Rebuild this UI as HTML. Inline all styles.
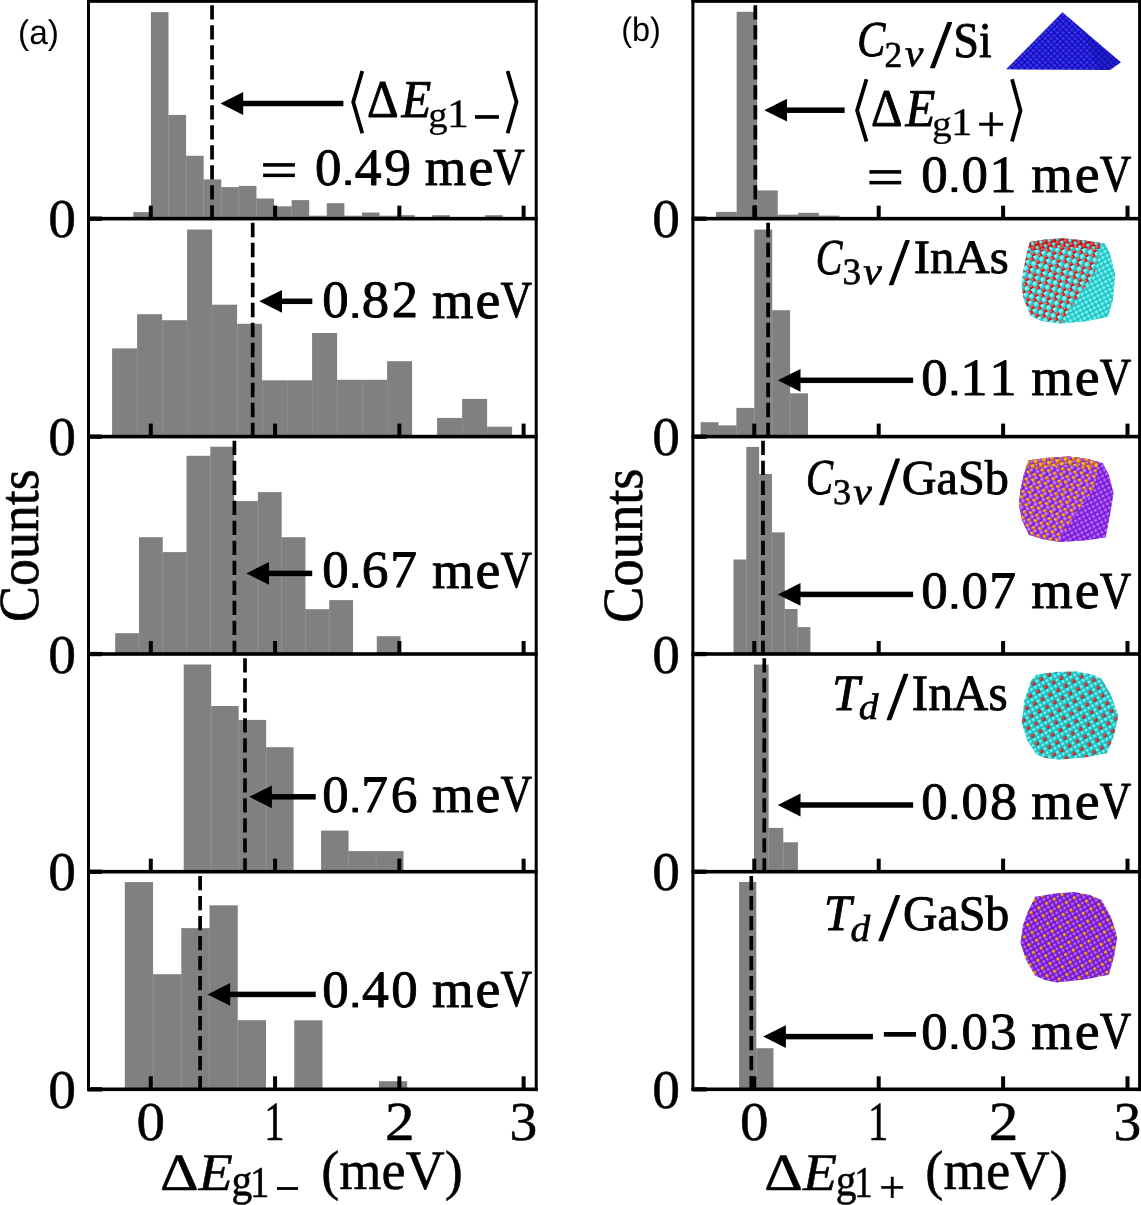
<!DOCTYPE html>
<html><head><meta charset="utf-8"><title>Histograms</title>
<style>html,body{margin:0;padding:0;background:#fff;}svg{display:block;will-change:transform;}text{text-rendering:geometricPrecision;}</style>
</head><body>
<svg width="1141" height="1205" viewBox="0 0 1141 1205">

<defs>
<radialGradient id="gC" cx="0.4" cy="0.35" r="0.65"><stop offset="0" stop-color="#c8ffff"/><stop offset="0.45" stop-color="#46eaea"/><stop offset="1" stop-color="#1aa8a8"/></radialGradient>
<radialGradient id="gR" cx="0.4" cy="0.35" r="0.65"><stop offset="0" stop-color="#ff9090"/><stop offset="0.45" stop-color="#e61e1e"/><stop offset="1" stop-color="#a00808"/></radialGradient>
<radialGradient id="gP" cx="0.4" cy="0.35" r="0.65"><stop offset="0" stop-color="#e6b0ff"/><stop offset="0.45" stop-color="#9c3cf4"/><stop offset="1" stop-color="#6410c4"/></radialGradient>
<radialGradient id="gO" cx="0.4" cy="0.35" r="0.65"><stop offset="0" stop-color="#ffd890"/><stop offset="0.45" stop-color="#f0901c"/><stop offset="1" stop-color="#b05a00"/></radialGradient>
<pattern id="pBlue" width="4.2" height="4.2" patternUnits="userSpaceOnUse" patternTransform="rotate(45)"><rect width="4.2" height="4.2" fill="#1610c0"/><circle cx="2.1" cy="2.1" r="1.5" fill="#3a36ee"/></pattern>
<pattern id="pCyan" width="5.6" height="5.6" patternUnits="userSpaceOnUse" patternTransform="rotate(-28) scale(0.8)"><rect width="5.6" height="5.6" fill="#2cc4c4"/><circle cx="2.8" cy="2.8" r="2.9" fill="url(#gC)"/></pattern>
<pattern id="pRC" width="7.6" height="7.6" patternUnits="userSpaceOnUse" patternTransform="rotate(-30) scale(1.2)"><rect width="7.6" height="7.6" fill="#30b4b0"/><circle cx="5.7" cy="1.9" r="2.4" fill="url(#gR)"/><circle cx="1.9" cy="5.7" r="2.4" fill="url(#gR)"/><circle cx="1.9" cy="1.9" r="2.75" fill="url(#gC)"/><circle cx="5.7" cy="5.7" r="2.75" fill="url(#gC)"/></pattern>
<pattern id="pCR" width="11.2" height="11.2" patternUnits="userSpaceOnUse" patternTransform="rotate(-30) scale(0.8)"><rect width="11.2" height="11.2" fill="#22b8b8"/><circle cx="2.8" cy="2.8" r="2.7" fill="url(#gC)"/><circle cx="8.4" cy="2.8" r="2.7" fill="url(#gC)"/><circle cx="2.8" cy="8.4" r="2.7" fill="url(#gC)"/><circle cx="8.4" cy="8.4" r="2.4" fill="url(#gR)"/></pattern>
<pattern id="pRed" width="5.2" height="5.2" patternUnits="userSpaceOnUse" patternTransform="rotate(-10)"><rect width="5.2" height="5.2" fill="#b41010"/><circle cx="2.6" cy="2.6" r="2.4" fill="url(#gR)"/></pattern>
<pattern id="pPur" width="5.6" height="5.6" patternUnits="userSpaceOnUse" patternTransform="rotate(-28) scale(0.8)"><rect width="5.6" height="5.6" fill="#7a22d8"/><circle cx="2.8" cy="2.8" r="2.9" fill="url(#gP)"/></pattern>
<pattern id="pPO" width="7.6" height="7.6" patternUnits="userSpaceOnUse" patternTransform="rotate(-30) scale(1.2)"><rect width="7.6" height="7.6" fill="#7a28d0"/><circle cx="5.7" cy="1.9" r="2.0" fill="url(#gO)"/><circle cx="1.9" cy="5.7" r="2.0" fill="url(#gO)"/><circle cx="1.9" cy="1.9" r="2.75" fill="url(#gP)"/><circle cx="5.7" cy="5.7" r="2.75" fill="url(#gP)"/></pattern>
<pattern id="pPo" width="11.2" height="11.2" patternUnits="userSpaceOnUse" patternTransform="rotate(-30) scale(0.8)"><rect width="11.2" height="11.2" fill="#7018d0"/><circle cx="2.8" cy="2.8" r="2.7" fill="url(#gP)"/><circle cx="8.4" cy="2.8" r="2.7" fill="url(#gP)"/><circle cx="2.8" cy="8.4" r="2.7" fill="url(#gP)"/><circle cx="8.4" cy="8.4" r="2.4" fill="url(#gO)"/></pattern>
<pattern id="pOr" width="5.2" height="5.2" patternUnits="userSpaceOnUse" patternTransform="rotate(-10)"><rect width="5.2" height="5.2" fill="#c06a08"/><circle cx="2.6" cy="2.6" r="2.4" fill="url(#gO)"/></pattern>
<pattern id="pRCt" width="7.6" height="7.6" patternUnits="userSpaceOnUse" patternTransform="rotate(-12) scale(1.1)"><rect width="7.6" height="7.6" fill="#b02020"/><circle cx="5.7" cy="1.9" r="2.0" fill="url(#gC)"/><circle cx="1.9" cy="5.7" r="2.0" fill="url(#gC)"/><circle cx="1.9" cy="1.9" r="2.6" fill="url(#gR)"/><circle cx="5.7" cy="5.7" r="2.6" fill="url(#gR)"/></pattern>
<pattern id="pPOt" width="7.6" height="7.6" patternUnits="userSpaceOnUse" patternTransform="rotate(-12) scale(1.1)"><rect width="7.6" height="7.6" fill="#b06010"/><circle cx="5.7" cy="1.9" r="2.0" fill="url(#gP)"/><circle cx="1.9" cy="5.7" r="2.0" fill="url(#gP)"/><circle cx="1.9" cy="1.9" r="2.6" fill="url(#gO)"/><circle cx="5.7" cy="5.7" r="2.6" fill="url(#gO)"/></pattern>
</defs>

<rect width="1141" height="1205" fill="#fff"/>
<rect x="133.30" y="212.10" width="17.59" height="6.55" fill="#808080" />
<rect x="150.89" y="12.10" width="17.59" height="206.55" fill="#808080" />
<rect x="168.48" y="114.90" width="17.59" height="103.75" fill="#808080" />
<rect x="186.07" y="155.80" width="17.59" height="62.85" fill="#808080" />
<rect x="203.66" y="179.40" width="17.59" height="39.25" fill="#808080" />
<rect x="221.25" y="187.10" width="17.59" height="31.55" fill="#808080" />
<rect x="238.84" y="185.90" width="17.59" height="32.75" fill="#808080" />
<rect x="256.43" y="198.50" width="17.59" height="20.15" fill="#808080" />
<rect x="274.02" y="206.30" width="17.59" height="12.35" fill="#808080" />
<rect x="291.61" y="200.10" width="17.59" height="18.55" fill="#808080" />
<rect x="309.20" y="215.70" width="17.59" height="2.95" fill="#808080" />
<rect x="326.79" y="203.20" width="17.59" height="15.45" fill="#808080" />
<rect x="344.38" y="215.70" width="17.59" height="2.95" fill="#808080" />
<rect x="361.97" y="212.50" width="17.59" height="6.15" fill="#808080" />
<rect x="379.56" y="215.70" width="17.59" height="2.95" fill="#808080" />
<rect x="397.15" y="215.20" width="17.59" height="3.45" fill="#808080" />
<rect x="432.33" y="215.20" width="17.59" height="3.45" fill="#808080" />
<rect x="485.10" y="215.20" width="17.59" height="3.45" fill="#808080" />
<rect x="150.39" y="212.10" width="1.00" height="6.55" fill="#8e8e8e" />
<rect x="167.98" y="114.90" width="1.00" height="103.75" fill="#8e8e8e" />
<rect x="185.57" y="155.80" width="1.00" height="62.85" fill="#8e8e8e" />
<rect x="203.16" y="179.40" width="1.00" height="39.25" fill="#8e8e8e" />
<rect x="220.75" y="187.10" width="1.00" height="31.55" fill="#8e8e8e" />
<rect x="238.34" y="187.10" width="1.00" height="31.55" fill="#8e8e8e" />
<rect x="255.93" y="198.50" width="1.00" height="20.15" fill="#8e8e8e" />
<rect x="273.52" y="206.30" width="1.00" height="12.35" fill="#8e8e8e" />
<rect x="291.11" y="206.30" width="1.00" height="12.35" fill="#8e8e8e" />
<rect x="308.70" y="215.70" width="1.00" height="2.95" fill="#8e8e8e" />
<rect x="326.29" y="215.70" width="1.00" height="2.95" fill="#8e8e8e" />
<rect x="343.88" y="215.70" width="1.00" height="2.95" fill="#8e8e8e" />
<rect x="361.47" y="215.70" width="1.00" height="2.95" fill="#8e8e8e" />
<rect x="379.06" y="215.70" width="1.00" height="2.95" fill="#8e8e8e" />
<rect x="396.65" y="215.70" width="1.00" height="2.95" fill="#8e8e8e" />
<line x1="212.05" y1="5.25" x2="212.05" y2="218.65" stroke="#000" stroke-width="3.7" stroke-dasharray="14.3 5.7"/>
<polygon points="220.5,103.5 243.20,92.10 243.20,114.90" fill="#000"/>
<rect x="242.20" y="100.75" width="101.20" height="5.50" fill="#000" />
<rect x="112.10" y="348.40" width="25.00" height="88.20" fill="#808080" />
<rect x="137.10" y="314.20" width="25.00" height="122.40" fill="#808080" />
<rect x="162.10" y="320.20" width="25.00" height="116.40" fill="#808080" />
<rect x="187.10" y="229.50" width="25.00" height="207.10" fill="#808080" />
<rect x="212.10" y="304.70" width="25.00" height="131.90" fill="#808080" />
<rect x="237.10" y="323.80" width="25.00" height="112.80" fill="#808080" />
<rect x="262.10" y="380.30" width="25.00" height="56.30" fill="#808080" />
<rect x="287.10" y="380.30" width="25.00" height="56.30" fill="#808080" />
<rect x="312.10" y="333.00" width="25.00" height="103.60" fill="#808080" />
<rect x="337.10" y="379.80" width="25.00" height="56.80" fill="#808080" />
<rect x="362.10" y="379.80" width="25.00" height="56.80" fill="#808080" />
<rect x="387.10" y="361.20" width="25.00" height="75.40" fill="#808080" />
<rect x="437.10" y="417.90" width="25.00" height="18.70" fill="#808080" />
<rect x="462.10" y="398.90" width="25.00" height="37.70" fill="#808080" />
<rect x="487.10" y="426.70" width="25.00" height="9.90" fill="#808080" />
<line x1="252.7" y1="222.85" x2="252.7" y2="436.6" stroke="#000" stroke-width="3.7" stroke-dasharray="14.3 5.7"/>
<polygon points="259.3,301.3 282.00,289.90 282.00,312.70" fill="#000"/>
<rect x="281.00" y="298.55" width="31.30" height="5.50" fill="#000" />
<rect x="115.20" y="633.20" width="23.78" height="20.80" fill="#808080" />
<rect x="138.98" y="537.20" width="23.78" height="116.80" fill="#808080" />
<rect x="162.76" y="552.10" width="23.78" height="101.90" fill="#808080" />
<rect x="186.54" y="455.80" width="23.78" height="198.20" fill="#808080" />
<rect x="210.32" y="446.70" width="23.78" height="207.30" fill="#808080" />
<rect x="234.10" y="501.10" width="23.78" height="152.90" fill="#808080" />
<rect x="257.88" y="492.10" width="23.78" height="161.90" fill="#808080" />
<rect x="281.66" y="537.20" width="23.78" height="116.80" fill="#808080" />
<rect x="305.44" y="609.20" width="23.78" height="44.80" fill="#808080" />
<rect x="329.22" y="600.10" width="23.78" height="53.90" fill="#808080" />
<rect x="376.78" y="636.20" width="23.78" height="17.80" fill="#808080" />
<rect x="138.48" y="633.20" width="1.00" height="20.80" fill="#8e8e8e" />
<rect x="162.26" y="552.10" width="1.00" height="101.90" fill="#8e8e8e" />
<rect x="186.04" y="552.10" width="1.00" height="101.90" fill="#8e8e8e" />
<rect x="209.82" y="455.80" width="1.00" height="198.20" fill="#8e8e8e" />
<rect x="233.60" y="501.10" width="1.00" height="152.90" fill="#8e8e8e" />
<rect x="257.38" y="501.10" width="1.00" height="152.90" fill="#8e8e8e" />
<rect x="281.16" y="537.20" width="1.00" height="116.80" fill="#8e8e8e" />
<rect x="304.94" y="609.20" width="1.00" height="44.80" fill="#8e8e8e" />
<rect x="328.72" y="609.20" width="1.00" height="44.80" fill="#8e8e8e" />
<line x1="234.4" y1="440.80" x2="234.4" y2="654.0" stroke="#000" stroke-width="3.7" stroke-dasharray="14.3 5.7"/>
<polygon points="246.3,573.4 269.00,562.00 269.00,584.80" fill="#000"/>
<rect x="268.00" y="570.65" width="44.20" height="5.50" fill="#000" />
<rect x="183.70" y="664.50" width="27.47" height="207.20" fill="#808080" />
<rect x="211.17" y="706.00" width="27.47" height="165.70" fill="#808080" />
<rect x="238.65" y="719.90" width="27.48" height="151.80" fill="#808080" />
<rect x="266.12" y="747.20" width="27.48" height="124.50" fill="#808080" />
<rect x="321.07" y="830.60" width="27.48" height="41.10" fill="#808080" />
<rect x="348.55" y="851.10" width="27.48" height="20.60" fill="#808080" />
<rect x="376.02" y="851.10" width="27.48" height="20.60" fill="#808080" />
<rect x="210.67" y="706.00" width="1.00" height="165.70" fill="#8e8e8e" />
<rect x="238.15" y="719.90" width="1.00" height="151.80" fill="#8e8e8e" />
<rect x="265.62" y="747.20" width="1.00" height="124.50" fill="#8e8e8e" />
<rect x="348.05" y="851.10" width="1.00" height="20.60" fill="#8e8e8e" />
<rect x="375.52" y="851.10" width="1.00" height="20.60" fill="#8e8e8e" />
<line x1="245.0" y1="658.20" x2="245.0" y2="871.7" stroke="#000" stroke-width="3.7" stroke-dasharray="14.3 5.7"/>
<polygon points="249.2,796.8 271.90,785.40 271.90,808.20" fill="#000"/>
<rect x="270.90" y="794.05" width="44.80" height="5.50" fill="#000" />
<rect x="124.80" y="882.10" width="28.24" height="207.20" fill="#808080" />
<rect x="153.04" y="974.20" width="28.24" height="115.10" fill="#808080" />
<rect x="181.28" y="928.10" width="28.24" height="161.20" fill="#808080" />
<rect x="209.52" y="905.30" width="28.24" height="184.00" fill="#808080" />
<rect x="237.76" y="1020.20" width="28.24" height="69.10" fill="#808080" />
<rect x="294.24" y="1020.30" width="28.24" height="69.00" fill="#808080" />
<rect x="378.96" y="1081.20" width="28.24" height="8.10" fill="#808080" />
<rect x="152.54" y="974.20" width="1.00" height="115.10" fill="#8e8e8e" />
<rect x="180.78" y="974.20" width="1.00" height="115.10" fill="#8e8e8e" />
<rect x="209.02" y="928.10" width="1.00" height="161.20" fill="#8e8e8e" />
<rect x="237.26" y="1020.20" width="1.00" height="69.10" fill="#8e8e8e" />
<line x1="200.1" y1="875.90" x2="200.1" y2="1089.3" stroke="#000" stroke-width="3.7" stroke-dasharray="14.3 5.7"/>
<polygon points="207.5,994.4 230.20,983.00 230.20,1005.80" fill="#000"/>
<rect x="229.20" y="991.65" width="86.50" height="5.50" fill="#000" />
<rect x="87.00" y="-0.75" width="450.70" height="3.60" fill="#000" />
<rect x="87.00" y="216.85" width="450.70" height="3.60" fill="#000" />
<rect x="87.00" y="434.80" width="450.70" height="3.60" fill="#000" />
<rect x="87.00" y="652.20" width="450.70" height="3.60" fill="#000" />
<rect x="87.00" y="869.90" width="450.70" height="3.60" fill="#000" />
<rect x="87.00" y="1087.50" width="450.70" height="3.60" fill="#000" />
<rect x="87.00" y="0.00" width="3.00" height="1091.10" fill="#000" />
<rect x="534.70" y="0.00" width="3.00" height="1091.10" fill="#000" />
<rect x="148.80" y="205.65" width="4.00" height="13.00" fill="#000" />
<rect x="273.07" y="205.65" width="4.00" height="13.00" fill="#000" />
<rect x="397.34" y="205.65" width="4.00" height="13.00" fill="#000" />
<rect x="521.61" y="205.65" width="4.00" height="13.00" fill="#000" />
<rect x="88.50" y="216.55" width="13.50" height="4.30" fill="#000" />
<rect x="148.80" y="423.60" width="4.00" height="13.00" fill="#000" />
<rect x="273.07" y="423.60" width="4.00" height="13.00" fill="#000" />
<rect x="397.34" y="423.60" width="4.00" height="13.00" fill="#000" />
<rect x="521.61" y="423.60" width="4.00" height="13.00" fill="#000" />
<rect x="88.50" y="434.50" width="13.50" height="4.30" fill="#000" />
<rect x="148.80" y="641.00" width="4.00" height="13.00" fill="#000" />
<rect x="273.07" y="641.00" width="4.00" height="13.00" fill="#000" />
<rect x="397.34" y="641.00" width="4.00" height="13.00" fill="#000" />
<rect x="521.61" y="641.00" width="4.00" height="13.00" fill="#000" />
<rect x="88.50" y="651.90" width="13.50" height="4.30" fill="#000" />
<rect x="148.80" y="858.70" width="4.00" height="13.00" fill="#000" />
<rect x="273.07" y="858.70" width="4.00" height="13.00" fill="#000" />
<rect x="397.34" y="858.70" width="4.00" height="13.00" fill="#000" />
<rect x="521.61" y="858.70" width="4.00" height="13.00" fill="#000" />
<rect x="88.50" y="869.60" width="13.50" height="4.30" fill="#000" />
<rect x="148.80" y="1076.30" width="4.00" height="13.00" fill="#000" />
<rect x="273.07" y="1076.30" width="4.00" height="13.00" fill="#000" />
<rect x="397.34" y="1076.30" width="4.00" height="13.00" fill="#000" />
<rect x="521.61" y="1076.30" width="4.00" height="13.00" fill="#000" />
<rect x="88.50" y="1087.20" width="13.50" height="4.30" fill="#000" />
<rect x="716.10" y="211.90" width="20.55" height="6.75" fill="#808080" />
<rect x="736.65" y="11.80" width="20.55" height="206.85" fill="#808080" />
<rect x="757.20" y="190.40" width="20.55" height="28.25" fill="#808080" />
<rect x="777.75" y="214.70" width="20.55" height="3.95" fill="#808080" />
<rect x="798.30" y="212.80" width="20.55" height="5.85" fill="#808080" />
<rect x="818.85" y="215.60" width="20.55" height="3.05" fill="#808080" />
<rect x="736.15" y="211.90" width="1.00" height="6.75" fill="#8e8e8e" />
<rect x="756.70" y="190.40" width="1.00" height="28.25" fill="#8e8e8e" />
<rect x="777.25" y="214.70" width="1.00" height="3.95" fill="#8e8e8e" />
<rect x="797.80" y="214.70" width="1.00" height="3.95" fill="#8e8e8e" />
<rect x="818.35" y="215.60" width="1.00" height="3.05" fill="#8e8e8e" />
<line x1="755.3" y1="5.25" x2="755.3" y2="218.65" stroke="#000" stroke-width="3.7" stroke-dasharray="14.3 5.7"/>
<polygon points="764.3,110.2 787.00,98.80 787.00,121.60" fill="#000"/>
<rect x="786.00" y="107.45" width="58.60" height="5.50" fill="#000" />
<rect x="700.60" y="422.20" width="17.90" height="14.40" fill="#808080" />
<rect x="718.50" y="425.40" width="17.90" height="11.20" fill="#808080" />
<rect x="736.40" y="407.90" width="17.90" height="28.70" fill="#808080" />
<rect x="754.30" y="229.60" width="17.90" height="207.00" fill="#808080" />
<rect x="772.20" y="310.20" width="17.90" height="126.40" fill="#808080" />
<rect x="790.10" y="393.30" width="17.90" height="43.30" fill="#808080" />
<rect x="718.00" y="425.40" width="1.00" height="11.20" fill="#8e8e8e" />
<rect x="735.90" y="425.40" width="1.00" height="11.20" fill="#8e8e8e" />
<rect x="753.80" y="407.90" width="1.00" height="28.70" fill="#8e8e8e" />
<rect x="771.70" y="310.20" width="1.00" height="126.40" fill="#8e8e8e" />
<rect x="789.60" y="393.30" width="1.00" height="43.30" fill="#8e8e8e" />
<line x1="768.1" y1="222.85" x2="768.1" y2="436.6" stroke="#000" stroke-width="3.7" stroke-dasharray="14.3 5.7"/>
<polygon points="777.8,380.3 800.50,368.90 800.50,391.70" fill="#000"/>
<rect x="799.50" y="377.55" width="113.60" height="5.50" fill="#000" />
<rect x="733.50" y="559.50" width="12.82" height="94.50" fill="#808080" />
<rect x="746.32" y="446.90" width="12.82" height="207.10" fill="#808080" />
<rect x="759.14" y="474.00" width="12.82" height="180.00" fill="#808080" />
<rect x="771.96" y="532.40" width="12.82" height="121.60" fill="#808080" />
<rect x="784.78" y="609.00" width="12.82" height="45.00" fill="#808080" />
<rect x="797.60" y="627.10" width="12.82" height="26.90" fill="#808080" />
<rect x="745.82" y="559.50" width="1.00" height="94.50" fill="#8e8e8e" />
<rect x="758.64" y="474.00" width="1.00" height="180.00" fill="#8e8e8e" />
<rect x="771.46" y="532.40" width="1.00" height="121.60" fill="#8e8e8e" />
<rect x="784.28" y="609.00" width="1.00" height="45.00" fill="#8e8e8e" />
<rect x="797.10" y="627.10" width="1.00" height="26.90" fill="#8e8e8e" />
<line x1="763.0" y1="440.80" x2="763.0" y2="654.0" stroke="#000" stroke-width="3.7" stroke-dasharray="14.3 5.7"/>
<polygon points="777.8,594.4 800.50,583.00 800.50,605.80" fill="#000"/>
<rect x="799.50" y="591.65" width="113.60" height="5.50" fill="#000" />
<rect x="754.00" y="664.60" width="14.63" height="207.10" fill="#808080" />
<rect x="768.63" y="827.90" width="14.63" height="43.80" fill="#808080" />
<rect x="783.26" y="842.30" width="14.63" height="29.40" fill="#808080" />
<rect x="768.13" y="827.90" width="1.00" height="43.80" fill="#8e8e8e" />
<rect x="782.76" y="842.30" width="1.00" height="29.40" fill="#8e8e8e" />
<line x1="764.3" y1="658.20" x2="764.3" y2="871.7" stroke="#000" stroke-width="3.7" stroke-dasharray="14.3 5.7"/>
<polygon points="777.8,805.0 800.50,793.60 800.50,816.40" fill="#000"/>
<rect x="799.50" y="802.25" width="113.60" height="5.50" fill="#000" />
<rect x="739.10" y="882.00" width="17.20" height="207.30" fill="#808080" />
<rect x="756.30" y="1048.20" width="17.20" height="41.10" fill="#808080" />
<rect x="755.80" y="1048.20" width="1.00" height="41.10" fill="#8e8e8e" />
<line x1="751.3" y1="875.90" x2="751.3" y2="1089.3" stroke="#000" stroke-width="3.7" stroke-dasharray="14.3 5.7"/>
<polygon points="763.2,1036.6 785.90,1025.20 785.90,1048.00" fill="#000"/>
<rect x="784.90" y="1033.85" width="88.00" height="5.50" fill="#000" />
<rect x="691.40" y="-0.75" width="449.70" height="3.60" fill="#000" />
<rect x="691.40" y="216.85" width="449.70" height="3.60" fill="#000" />
<rect x="691.40" y="434.80" width="449.70" height="3.60" fill="#000" />
<rect x="691.40" y="652.20" width="449.70" height="3.60" fill="#000" />
<rect x="691.40" y="869.90" width="449.70" height="3.60" fill="#000" />
<rect x="691.40" y="1087.50" width="449.70" height="3.60" fill="#000" />
<rect x="691.40" y="0.00" width="3.00" height="1091.10" fill="#000" />
<rect x="1138.10" y="0.00" width="3.00" height="1091.10" fill="#000" />
<rect x="752.30" y="205.65" width="4.00" height="13.00" fill="#000" />
<rect x="876.70" y="205.65" width="4.00" height="13.00" fill="#000" />
<rect x="1001.10" y="205.65" width="4.00" height="13.00" fill="#000" />
<rect x="1125.50" y="205.65" width="4.00" height="13.00" fill="#000" />
<rect x="692.90" y="216.55" width="13.50" height="4.30" fill="#000" />
<rect x="752.30" y="423.60" width="4.00" height="13.00" fill="#000" />
<rect x="876.70" y="423.60" width="4.00" height="13.00" fill="#000" />
<rect x="1001.10" y="423.60" width="4.00" height="13.00" fill="#000" />
<rect x="1125.50" y="423.60" width="4.00" height="13.00" fill="#000" />
<rect x="692.90" y="434.50" width="13.50" height="4.30" fill="#000" />
<rect x="752.30" y="641.00" width="4.00" height="13.00" fill="#000" />
<rect x="876.70" y="641.00" width="4.00" height="13.00" fill="#000" />
<rect x="1001.10" y="641.00" width="4.00" height="13.00" fill="#000" />
<rect x="1125.50" y="641.00" width="4.00" height="13.00" fill="#000" />
<rect x="692.90" y="651.90" width="13.50" height="4.30" fill="#000" />
<rect x="752.30" y="858.70" width="4.00" height="13.00" fill="#000" />
<rect x="876.70" y="858.70" width="4.00" height="13.00" fill="#000" />
<rect x="1001.10" y="858.70" width="4.00" height="13.00" fill="#000" />
<rect x="1125.50" y="858.70" width="4.00" height="13.00" fill="#000" />
<rect x="692.90" y="869.60" width="13.50" height="4.30" fill="#000" />
<rect x="752.30" y="1076.30" width="4.00" height="13.00" fill="#000" />
<rect x="876.70" y="1076.30" width="4.00" height="13.00" fill="#000" />
<rect x="1001.10" y="1076.30" width="4.00" height="13.00" fill="#000" />
<rect x="1125.50" y="1076.30" width="4.00" height="13.00" fill="#000" />
<rect x="692.90" y="1087.20" width="13.50" height="4.30" fill="#000" />
<polygon points="1062.5,12.2 1120.8,62.2 1110.0,70.1 1006.1,69.3" fill="url(#pBlue)" />
<polygon points="1085.0,34.0 1120.8,62.2 1110.0,70.1 1098.0,70.0" fill="#1212b0" opacity="0.45"/>
<polygon points="1030.0,242.0 1045.0,239.5 1062.6,238.2 1085.0,240.5 1104.5,243.2 1109.5,252.0 1115.2,274.2 1113.0,300.0 1108.0,317.0 1085.0,321.5 1060.5,323.6 1042.0,321.0 1031.0,316.2 1024.0,300.0 1021.6,285.7 1023.5,270.0 1026.5,255.0" fill="url(#pCyan)" />
<polygon points="1030.0,242.0 1045.0,239.5 1062.6,238.2 1085.0,240.5 1100.5,243.0 1095.0,273.0 1077.0,299.0 1060.5,323.6 1042.0,321.0 1031.0,316.2 1024.0,300.0 1021.6,285.7 1023.5,270.0 1026.5,255.0" fill="url(#pRC)" />
<polygon points="1030.0,242.0 1045.0,239.5 1062.6,238.2 1085.0,240.5 1100.5,243.0 1099.5,249.0 1062.0,247.0 1027.5,251.0" fill="url(#pRCt)" />
<polygon points="1028.5,460.5 1045.0,458.0 1068.9,456.4 1088.0,459.0 1102.6,462.9 1109.0,475.0 1113.6,493.4 1110.0,515.0 1105.7,537.6 1085.0,540.5 1060.5,542.1 1042.0,539.0 1028.9,534.7 1022.0,520.0 1018.9,505.0 1020.5,490.0 1023.7,475.0" fill="url(#pPur)" />
<polygon points="1028.5,460.5 1045.0,458.0 1068.9,456.4 1088.0,459.0 1098.5,462.5 1094.0,489.0 1075.0,515.0 1058.0,541.8 1042.0,539.0 1028.9,534.7 1022.0,520.0 1018.9,505.0 1020.5,490.0 1023.7,475.0" fill="url(#pPO)" />
<polygon points="1028.5,460.5 1045.0,458.0 1068.9,456.4 1088.0,459.0 1098.5,462.5 1097.5,468.0 1068.0,465.0 1025.0,469.0" fill="url(#pPOt)" />
<polygon points="1031.0,680.8 1036.3,674.5 1055.0,672.0 1075.2,671.3 1092.0,674.5 1101.5,678.7 1111.0,695.0 1118.3,715.5 1114.0,736.0 1106.8,753.3 1085.0,757.5 1059.4,759.7 1045.0,758.0 1036.3,754.4 1027.0,740.0 1021.6,722.8 1024.5,700.0" fill="url(#pCR)" />
<polygon points="1027.9,911.6 1035.2,896.8 1055.0,893.5 1074.2,892.1 1090.0,895.0 1101.5,900.0 1111.0,917.0 1117.3,936.8 1114.0,957.0 1108.9,974.7 1085.0,979.5 1056.3,982.6 1045.0,980.0 1035.2,975.8 1026.0,960.0 1020.5,943.1 1023.0,925.0" fill="url(#pPo)" />
<text transform="translate(18.02,43.79) scale(0.9856,1.0102)" font-family='"Liberation Sans", sans-serif' font-style="normal" font-size="34">(a)</text>
<text transform="translate(621.18,40.78) scale(0.9562,0.9976)" font-family='"Liberation Sans", sans-serif' font-style="normal" font-size="34">(b)</text>
<text transform="translate(48.14,237.17) scale(1.0268,1.0072)" font-family='"Liberation Serif", serif' font-style="normal" font-size="54" stroke="#000" stroke-width="0.5" stroke-linejoin="round">0</text>
<text transform="translate(48.14,455.12) scale(1.0268,1.0072)" font-family='"Liberation Serif", serif' font-style="normal" font-size="54" stroke="#000" stroke-width="0.5" stroke-linejoin="round">0</text>
<text transform="translate(48.14,672.52) scale(1.0268,1.0072)" font-family='"Liberation Serif", serif' font-style="normal" font-size="54" stroke="#000" stroke-width="0.5" stroke-linejoin="round">0</text>
<text transform="translate(48.14,890.22) scale(1.0268,1.0072)" font-family='"Liberation Serif", serif' font-style="normal" font-size="54" stroke="#000" stroke-width="0.5" stroke-linejoin="round">0</text>
<text transform="translate(48.14,1107.82) scale(1.0268,1.0072)" font-family='"Liberation Serif", serif' font-style="normal" font-size="54" stroke="#000" stroke-width="0.5" stroke-linejoin="round">0</text>
<text transform="translate(652.14,237.17) scale(1.0268,1.0072)" font-family='"Liberation Serif", serif' font-style="normal" font-size="54" stroke="#000" stroke-width="0.5" stroke-linejoin="round">0</text>
<text transform="translate(652.14,455.12) scale(1.0268,1.0072)" font-family='"Liberation Serif", serif' font-style="normal" font-size="54" stroke="#000" stroke-width="0.5" stroke-linejoin="round">0</text>
<text transform="translate(652.14,672.52) scale(1.0268,1.0072)" font-family='"Liberation Serif", serif' font-style="normal" font-size="54" stroke="#000" stroke-width="0.5" stroke-linejoin="round">0</text>
<text transform="translate(652.14,890.22) scale(1.0268,1.0072)" font-family='"Liberation Serif", serif' font-style="normal" font-size="54" stroke="#000" stroke-width="0.5" stroke-linejoin="round">0</text>
<text transform="translate(652.14,1107.82) scale(1.0268,1.0072)" font-family='"Liberation Serif", serif' font-style="normal" font-size="54" stroke="#000" stroke-width="0.5" stroke-linejoin="round">0</text>
<text transform="translate(136.53,1140.22) scale(1.0382,0.9915)" font-family='"Liberation Serif", serif' font-style="normal" font-size="55" stroke="#000" stroke-width="0.5" stroke-linejoin="round">0</text>
<text transform="translate(264.35,1140.35) scale(0.7385,1.0025)" font-family='"Liberation Serif", serif' font-style="normal" font-size="55" stroke="#000" stroke-width="0.5" stroke-linejoin="round">1</text>
<text transform="translate(384.89,1140.35) scale(1.0749,0.9996)" font-family='"Liberation Serif", serif' font-style="normal" font-size="55" stroke="#000" stroke-width="0.5" stroke-linejoin="round">2</text>
<text transform="translate(509.51,1140.22) scale(1.0079,0.9959)" font-family='"Liberation Serif", serif' font-style="normal" font-size="55" stroke="#000" stroke-width="0.5" stroke-linejoin="round">3</text>
<text transform="translate(740.03,1140.22) scale(1.0382,0.9915)" font-family='"Liberation Serif", serif' font-style="normal" font-size="55" stroke="#000" stroke-width="0.5" stroke-linejoin="round">0</text>
<text transform="translate(867.98,1140.35) scale(0.7385,1.0025)" font-family='"Liberation Serif", serif' font-style="normal" font-size="55" stroke="#000" stroke-width="0.5" stroke-linejoin="round">1</text>
<text transform="translate(988.65,1140.35) scale(1.0749,0.9996)" font-family='"Liberation Serif", serif' font-style="normal" font-size="55" stroke="#000" stroke-width="0.5" stroke-linejoin="round">2</text>
<text transform="translate(1113.40,1140.22) scale(1.0079,0.9959)" font-family='"Liberation Serif", serif' font-style="normal" font-size="55" stroke="#000" stroke-width="0.5" stroke-linejoin="round">3</text>
<text transform="translate(159.97,1189.65) scale(1.0895,0.9529)" font-family='"Liberation Serif", serif' font-style="normal" font-size="55" stroke="#000" stroke-width="0.5" stroke-linejoin="round">Δ</text>
<text transform="translate(198.51,1189.65) scale(1.0194,0.9608)" font-family='"Liberation Serif", serif' font-style="italic" font-size="55" stroke="#000" stroke-width="0.5" stroke-linejoin="round">E</text>
<text transform="translate(231.46,1194.66) scale(0.9444,1.0101)" font-family='"Liberation Serif", serif' font-style="normal" font-size="44" stroke="#000" stroke-width="0.5" stroke-linejoin="round">g</text>
<text transform="translate(249.95,1196.65) scale(0.8780,0.9984)" font-family='"Liberation Serif", serif' font-style="normal" font-size="44" stroke="#000" stroke-width="0.5" stroke-linejoin="round">1</text>
<rect x="277.00" y="1187.10" width="21.00" height="2.80" fill="#000" />
<text transform="translate(321.16,1189.42) scale(0.9870,1.0106)" font-family='"Liberation Serif", serif' font-style="normal" font-size="55" stroke="#000" stroke-width="0.5" stroke-linejoin="round">(meV)</text>
<text transform="translate(764.17,1189.65) scale(1.0895,0.9529)" font-family='"Liberation Serif", serif' font-style="normal" font-size="55" stroke="#000" stroke-width="0.5" stroke-linejoin="round">Δ</text>
<text transform="translate(802.71,1189.65) scale(1.0194,0.9608)" font-family='"Liberation Serif", serif' font-style="italic" font-size="55" stroke="#000" stroke-width="0.5" stroke-linejoin="round">E</text>
<text transform="translate(835.66,1194.66) scale(0.9444,1.0101)" font-family='"Liberation Serif", serif' font-style="normal" font-size="44" stroke="#000" stroke-width="0.5" stroke-linejoin="round">g</text>
<text transform="translate(854.33,1196.65) scale(0.8328,0.9984)" font-family='"Liberation Serif", serif' font-style="normal" font-size="44" stroke="#000" stroke-width="0.5" stroke-linejoin="round">1</text>
<text transform="translate(879.16,1202.43) scale(1.0452,1.0051)" font-family='"Liberation Serif", serif' font-style="normal" font-size="44" stroke="#000" stroke-width="0.5" stroke-linejoin="round">+</text>
<text transform="translate(925.35,1189.42) scale(0.9927,1.0106)" font-family='"Liberation Serif", serif' font-style="normal" font-size="55" stroke="#000" stroke-width="0.5" stroke-linejoin="round">(meV)</text>
<text transform="translate(38.15,621.91) rotate(-90) scale(0.9787,1.0310)" font-family='"Liberation Serif", serif' font-style="normal" font-size="55" stroke="#000" stroke-width="0.6" stroke-linejoin="round">Counts</text>
<text transform="translate(641.65,622.94) rotate(-90) scale(0.9913,1.0310)" font-family='"Liberation Serif", serif' font-style="normal" font-size="55" stroke="#000" stroke-width="0.6" stroke-linejoin="round">Counts</text>
<text transform="translate(315.04,184.64) scale(0.9879,0.9778)" font-family='"Liberation Serif", serif' font-style="normal" font-size="53.5" stroke="#000" stroke-width="0.9" stroke-linejoin="round">0</text>
<rect x="345.30" y="180.40" width="5.60" height="4.70" fill="#000" />
<text transform="translate(354.87,184.65) scale(1.0038,0.9797)" font-family='"Liberation Serif", serif' font-style="normal" font-size="53.5" stroke="#000" stroke-width="0.9" stroke-linejoin="round">4</text>
<text transform="translate(384.25,184.64) scale(1.0006,0.9737)" font-family='"Liberation Serif", serif' font-style="normal" font-size="53.5" stroke="#000" stroke-width="0.9" stroke-linejoin="round">9</text>
<text transform="translate(424.83,184.75) scale(0.9986,0.9878)" font-family='"Liberation Serif", serif' font-style="normal" font-size="53.5" stroke="#000" stroke-width="0.9" stroke-linejoin="round">m</text>
<text transform="translate(468.47,184.73) scale(1.0454,1.0027)" font-family='"Liberation Serif", serif' font-style="normal" font-size="53.5" stroke="#000" stroke-width="0.9" stroke-linejoin="round">e</text>
<text transform="translate(493.36,184.06) scale(0.8174,0.9710)" font-family='"Liberation Serif", serif' font-style="normal" font-size="53.5" stroke="#000" stroke-width="0.9" stroke-linejoin="round">V</text>
<text transform="translate(322.14,317.44) scale(0.9879,0.9778)" font-family='"Liberation Serif", serif' font-style="normal" font-size="53.5" stroke="#000" stroke-width="0.9" stroke-linejoin="round">0</text>
<rect x="352.40" y="313.20" width="5.60" height="4.70" fill="#000" />
<text transform="translate(361.82,317.44) scale(1.0232,0.9778)" font-family='"Liberation Serif", serif' font-style="normal" font-size="53.5" stroke="#000" stroke-width="0.9" stroke-linejoin="round">8</text>
<text transform="translate(391.70,317.45) scale(0.9792,0.9739)" font-family='"Liberation Serif", serif' font-style="normal" font-size="53.5" stroke="#000" stroke-width="0.9" stroke-linejoin="round">2</text>
<text transform="translate(431.93,317.55) scale(0.9986,0.9878)" font-family='"Liberation Serif", serif' font-style="normal" font-size="53.5" stroke="#000" stroke-width="0.9" stroke-linejoin="round">m</text>
<text transform="translate(475.57,317.53) scale(1.0454,1.0027)" font-family='"Liberation Serif", serif' font-style="normal" font-size="53.5" stroke="#000" stroke-width="0.9" stroke-linejoin="round">e</text>
<text transform="translate(500.46,316.86) scale(0.8174,0.9710)" font-family='"Liberation Serif", serif' font-style="normal" font-size="53.5" stroke="#000" stroke-width="0.9" stroke-linejoin="round">V</text>
<text transform="translate(322.14,587.44) scale(0.9879,0.9778)" font-family='"Liberation Serif", serif' font-style="normal" font-size="53.5" stroke="#000" stroke-width="0.9" stroke-linejoin="round">0</text>
<rect x="352.40" y="583.20" width="5.60" height="4.70" fill="#000" />
<text transform="translate(361.76,587.44) scale(1.0006,0.9737)" font-family='"Liberation Serif", serif' font-style="normal" font-size="53.5" stroke="#000" stroke-width="0.9" stroke-linejoin="round">6</text>
<text transform="translate(390.15,587.45) scale(0.9985,0.9848)" font-family='"Liberation Serif", serif' font-style="normal" font-size="53.5" stroke="#000" stroke-width="0.9" stroke-linejoin="round">7</text>
<text transform="translate(431.93,587.55) scale(0.9986,0.9878)" font-family='"Liberation Serif", serif' font-style="normal" font-size="53.5" stroke="#000" stroke-width="0.9" stroke-linejoin="round">m</text>
<text transform="translate(475.57,587.53) scale(1.0454,1.0027)" font-family='"Liberation Serif", serif' font-style="normal" font-size="53.5" stroke="#000" stroke-width="0.9" stroke-linejoin="round">e</text>
<text transform="translate(500.46,586.86) scale(0.8174,0.9710)" font-family='"Liberation Serif", serif' font-style="normal" font-size="53.5" stroke="#000" stroke-width="0.9" stroke-linejoin="round">V</text>
<text transform="translate(322.14,811.94) scale(0.9879,0.9778)" font-family='"Liberation Serif", serif' font-style="normal" font-size="53.5" stroke="#000" stroke-width="0.9" stroke-linejoin="round">0</text>
<rect x="352.40" y="807.70" width="5.60" height="4.70" fill="#000" />
<text transform="translate(361.15,811.95) scale(0.9985,0.9848)" font-family='"Liberation Serif", serif' font-style="normal" font-size="53.5" stroke="#000" stroke-width="0.9" stroke-linejoin="round">7</text>
<text transform="translate(390.76,811.94) scale(1.0006,0.9737)" font-family='"Liberation Serif", serif' font-style="normal" font-size="53.5" stroke="#000" stroke-width="0.9" stroke-linejoin="round">6</text>
<text transform="translate(431.93,812.05) scale(0.9986,0.9878)" font-family='"Liberation Serif", serif' font-style="normal" font-size="53.5" stroke="#000" stroke-width="0.9" stroke-linejoin="round">m</text>
<text transform="translate(475.57,812.03) scale(1.0454,1.0027)" font-family='"Liberation Serif", serif' font-style="normal" font-size="53.5" stroke="#000" stroke-width="0.9" stroke-linejoin="round">e</text>
<text transform="translate(500.46,811.36) scale(0.8174,0.9710)" font-family='"Liberation Serif", serif' font-style="normal" font-size="53.5" stroke="#000" stroke-width="0.9" stroke-linejoin="round">V</text>
<text transform="translate(322.14,1006.94) scale(0.9879,0.9778)" font-family='"Liberation Serif", serif' font-style="normal" font-size="53.5" stroke="#000" stroke-width="0.9" stroke-linejoin="round">0</text>
<rect x="352.40" y="1002.70" width="5.60" height="4.70" fill="#000" />
<text transform="translate(361.97,1006.95) scale(1.0038,0.9797)" font-family='"Liberation Serif", serif' font-style="normal" font-size="53.5" stroke="#000" stroke-width="0.9" stroke-linejoin="round">4</text>
<text transform="translate(391.29,1006.94) scale(0.9879,0.9778)" font-family='"Liberation Serif", serif' font-style="normal" font-size="53.5" stroke="#000" stroke-width="0.9" stroke-linejoin="round">0</text>
<text transform="translate(431.93,1007.05) scale(0.9986,0.9878)" font-family='"Liberation Serif", serif' font-style="normal" font-size="53.5" stroke="#000" stroke-width="0.9" stroke-linejoin="round">m</text>
<text transform="translate(475.57,1007.03) scale(1.0454,1.0027)" font-family='"Liberation Serif", serif' font-style="normal" font-size="53.5" stroke="#000" stroke-width="0.9" stroke-linejoin="round">e</text>
<text transform="translate(500.46,1006.36) scale(0.8174,0.9710)" font-family='"Liberation Serif", serif' font-style="normal" font-size="53.5" stroke="#000" stroke-width="0.9" stroke-linejoin="round">V</text>
<text transform="translate(921.34,191.64) scale(0.9879,0.9778)" font-family='"Liberation Serif", serif' font-style="normal" font-size="53.5" stroke="#000" stroke-width="0.9" stroke-linejoin="round">0</text>
<rect x="951.60" y="187.40" width="5.60" height="4.70" fill="#000" />
<text transform="translate(961.49,191.64) scale(0.9879,0.9778)" font-family='"Liberation Serif", serif' font-style="normal" font-size="53.5" stroke="#000" stroke-width="0.9" stroke-linejoin="round">0</text>
<text transform="translate(989.23,191.65) scale(1.0247,0.9768)" font-family='"Liberation Serif", serif' font-style="normal" font-size="53.5" stroke="#000" stroke-width="0.9" stroke-linejoin="round">1</text>
<text transform="translate(1031.13,191.75) scale(0.9986,0.9878)" font-family='"Liberation Serif", serif' font-style="normal" font-size="53.5" stroke="#000" stroke-width="0.9" stroke-linejoin="round">m</text>
<text transform="translate(1074.77,191.73) scale(1.0454,1.0027)" font-family='"Liberation Serif", serif' font-style="normal" font-size="53.5" stroke="#000" stroke-width="0.9" stroke-linejoin="round">e</text>
<text transform="translate(1099.66,191.06) scale(0.8174,0.9710)" font-family='"Liberation Serif", serif' font-style="normal" font-size="53.5" stroke="#000" stroke-width="0.9" stroke-linejoin="round">V</text>
<text transform="translate(921.34,394.94) scale(0.9879,0.9778)" font-family='"Liberation Serif", serif' font-style="normal" font-size="53.5" stroke="#000" stroke-width="0.9" stroke-linejoin="round">0</text>
<rect x="951.60" y="390.70" width="5.60" height="4.70" fill="#000" />
<text transform="translate(960.23,394.95) scale(1.0247,0.9768)" font-family='"Liberation Serif", serif' font-style="normal" font-size="53.5" stroke="#000" stroke-width="0.9" stroke-linejoin="round">1</text>
<text transform="translate(989.23,394.95) scale(1.0247,0.9768)" font-family='"Liberation Serif", serif' font-style="normal" font-size="53.5" stroke="#000" stroke-width="0.9" stroke-linejoin="round">1</text>
<text transform="translate(1031.13,395.05) scale(0.9986,0.9878)" font-family='"Liberation Serif", serif' font-style="normal" font-size="53.5" stroke="#000" stroke-width="0.9" stroke-linejoin="round">m</text>
<text transform="translate(1074.77,395.03) scale(1.0454,1.0027)" font-family='"Liberation Serif", serif' font-style="normal" font-size="53.5" stroke="#000" stroke-width="0.9" stroke-linejoin="round">e</text>
<text transform="translate(1099.66,394.36) scale(0.8174,0.9710)" font-family='"Liberation Serif", serif' font-style="normal" font-size="53.5" stroke="#000" stroke-width="0.9" stroke-linejoin="round">V</text>
<text transform="translate(921.34,608.34) scale(0.9879,0.9778)" font-family='"Liberation Serif", serif' font-style="normal" font-size="53.5" stroke="#000" stroke-width="0.9" stroke-linejoin="round">0</text>
<rect x="951.60" y="604.10" width="5.60" height="4.70" fill="#000" />
<text transform="translate(961.49,608.34) scale(0.9879,0.9778)" font-family='"Liberation Serif", serif' font-style="normal" font-size="53.5" stroke="#000" stroke-width="0.9" stroke-linejoin="round">0</text>
<text transform="translate(989.35,608.35) scale(0.9985,0.9848)" font-family='"Liberation Serif", serif' font-style="normal" font-size="53.5" stroke="#000" stroke-width="0.9" stroke-linejoin="round">7</text>
<text transform="translate(1031.13,608.45) scale(0.9986,0.9878)" font-family='"Liberation Serif", serif' font-style="normal" font-size="53.5" stroke="#000" stroke-width="0.9" stroke-linejoin="round">m</text>
<text transform="translate(1074.77,608.43) scale(1.0454,1.0027)" font-family='"Liberation Serif", serif' font-style="normal" font-size="53.5" stroke="#000" stroke-width="0.9" stroke-linejoin="round">e</text>
<text transform="translate(1099.66,607.76) scale(0.8174,0.9710)" font-family='"Liberation Serif", serif' font-style="normal" font-size="53.5" stroke="#000" stroke-width="0.9" stroke-linejoin="round">V</text>
<text transform="translate(921.34,818.74) scale(0.9879,0.9778)" font-family='"Liberation Serif", serif' font-style="normal" font-size="53.5" stroke="#000" stroke-width="0.9" stroke-linejoin="round">0</text>
<rect x="951.60" y="814.50" width="5.60" height="4.70" fill="#000" />
<text transform="translate(961.49,818.74) scale(0.9879,0.9778)" font-family='"Liberation Serif", serif' font-style="normal" font-size="53.5" stroke="#000" stroke-width="0.9" stroke-linejoin="round">0</text>
<text transform="translate(990.02,818.74) scale(1.0232,0.9778)" font-family='"Liberation Serif", serif' font-style="normal" font-size="53.5" stroke="#000" stroke-width="0.9" stroke-linejoin="round">8</text>
<text transform="translate(1031.13,818.85) scale(0.9986,0.9878)" font-family='"Liberation Serif", serif' font-style="normal" font-size="53.5" stroke="#000" stroke-width="0.9" stroke-linejoin="round">m</text>
<text transform="translate(1074.77,818.83) scale(1.0454,1.0027)" font-family='"Liberation Serif", serif' font-style="normal" font-size="53.5" stroke="#000" stroke-width="0.9" stroke-linejoin="round">e</text>
<text transform="translate(1099.66,818.16) scale(0.8174,0.9710)" font-family='"Liberation Serif", serif' font-style="normal" font-size="53.5" stroke="#000" stroke-width="0.9" stroke-linejoin="round">V</text>
<text transform="translate(921.34,1048.64) scale(0.9879,0.9778)" font-family='"Liberation Serif", serif' font-style="normal" font-size="53.5" stroke="#000" stroke-width="0.9" stroke-linejoin="round">0</text>
<rect x="951.60" y="1044.40" width="5.60" height="4.70" fill="#000" />
<text transform="translate(961.49,1048.64) scale(0.9879,0.9778)" font-family='"Liberation Serif", serif' font-style="normal" font-size="53.5" stroke="#000" stroke-width="0.9" stroke-linejoin="round">0</text>
<text transform="translate(990.10,1048.64) scale(0.9993,0.9737)" font-family='"Liberation Serif", serif' font-style="normal" font-size="53.5" stroke="#000" stroke-width="0.9" stroke-linejoin="round">3</text>
<text transform="translate(1031.13,1048.75) scale(0.9986,0.9878)" font-family='"Liberation Serif", serif' font-style="normal" font-size="53.5" stroke="#000" stroke-width="0.9" stroke-linejoin="round">m</text>
<text transform="translate(1074.77,1048.73) scale(1.0454,1.0027)" font-family='"Liberation Serif", serif' font-style="normal" font-size="53.5" stroke="#000" stroke-width="0.9" stroke-linejoin="round">e</text>
<text transform="translate(1099.66,1048.06) scale(0.8174,0.9710)" font-family='"Liberation Serif", serif' font-style="normal" font-size="53.5" stroke="#000" stroke-width="0.9" stroke-linejoin="round">V</text>
<rect x="883.90" y="1032.00" width="32.10" height="4.70" fill="#000" />
<rect x="263.10" y="163.10" width="31.80" height="3.60" fill="#000" />
<rect x="263.10" y="173.60" width="31.80" height="3.50" fill="#000" />
<rect x="869.40" y="170.10" width="31.80" height="3.60" fill="#000" />
<rect x="869.40" y="180.90" width="31.80" height="3.50" fill="#000" />
<polyline points="362.3,71.0 353.2,102.1 362.3,133.2" fill="none" stroke="#000" stroke-width="3.8" stroke-linejoin="miter" stroke-miterlimit="10"/>
<polyline points="507.6,71.0 516.5,102.1 507.6,133.2" fill="none" stroke="#000" stroke-width="3.8" stroke-linejoin="miter" stroke-miterlimit="10"/>
<text transform="translate(366.98,117.45) scale(0.9106,0.9818)" font-family='"Liberation Serif", serif' font-style="normal" font-size="54" stroke="#000" stroke-width="0.9" stroke-linejoin="round">Δ</text>
<text transform="translate(401.62,117.45) scale(0.9008,0.9814)" font-family='"Liberation Serif", serif' font-style="italic" font-size="54" stroke="#000" stroke-width="0.9" stroke-linejoin="round">E</text>
<text transform="translate(428.13,126.83) scale(0.9703,0.9122)" font-family='"Liberation Serif", serif' font-style="normal" font-size="40" stroke="#000" stroke-width="0.2" stroke-linejoin="round">g</text>
<text transform="translate(446.93,126.55) scale(1.0865,1.0036)" font-family='"Liberation Serif", serif' font-style="normal" font-size="40" stroke="#000" stroke-width="0.3" stroke-linejoin="round">1</text>
<rect x="475.00" y="115.10" width="23.90" height="3.70" fill="#000" />
<polyline points="866.5,79.3 857.1,110.4 866.5,141.5" fill="none" stroke="#000" stroke-width="3.8" stroke-linejoin="miter" stroke-miterlimit="10"/>
<polyline points="1012.0,79.3 1020.5,110.4 1012.0,141.5" fill="none" stroke="#000" stroke-width="3.8" stroke-linejoin="miter" stroke-miterlimit="10"/>
<text transform="translate(870.88,126.05) scale(0.9074,0.9818)" font-family='"Liberation Serif", serif' font-style="normal" font-size="54" stroke="#000" stroke-width="0.9" stroke-linejoin="round">Δ</text>
<text transform="translate(905.42,126.05) scale(0.9008,0.9814)" font-family='"Liberation Serif", serif' font-style="italic" font-size="54" stroke="#000" stroke-width="0.9" stroke-linejoin="round">E</text>
<text transform="translate(931.90,135.57) scale(0.9875,0.9191)" font-family='"Liberation Serif", serif' font-style="normal" font-size="40" stroke="#000" stroke-width="0.2" stroke-linejoin="round">g</text>
<text transform="translate(950.98,134.75) scale(1.0723,0.9733)" font-family='"Liberation Serif", serif' font-style="normal" font-size="40" stroke="#000" stroke-width="0.3" stroke-linejoin="round">1</text>
<text transform="translate(976.95,141.25) scale(1.2572,1.2612)" font-family='"Liberation Serif", serif' font-style="normal" font-size="40" stroke="#000" stroke-width="0.5" stroke-linejoin="round">+</text>
<text transform="translate(857.31,55.88) scale(0.8411,1.0039)" font-family='"Liberation Serif", serif' font-style="italic" font-size="50" stroke="#000" stroke-width="0.9" stroke-linejoin="round">C</text>
<text transform="translate(884.54,66.60) scale(1.0418,1.0794)" font-family='"Liberation Serif", serif' font-style="normal" font-size="34" stroke="#000" stroke-width="0.6" stroke-linejoin="round">2</text>
<text transform="translate(904.93,66.23) scale(1.2170,1.1169)" font-family='"Liberation Serif", serif' font-style="italic" font-size="34" stroke="#000" stroke-width="0.6" stroke-linejoin="round">v</text>
<text transform="translate(930.65,67.09) scale(1.4973,1.3484)" font-family='"Liberation Serif", serif' font-style="normal" font-size="50" stroke="#000" stroke-width="0.9" stroke-linejoin="round">/</text>
<text transform="translate(953.59,56.76) scale(0.9144,1.0002)" font-family='"Liberation Serif", serif' font-style="normal" font-size="50" stroke="#000" stroke-width="0.9" stroke-linejoin="round">Si</text>
<text transform="translate(815.63,273.58) scale(0.7960,1.0069)" font-family='"Liberation Serif", serif' font-style="italic" font-size="50" stroke="#000" stroke-width="0.9" stroke-linejoin="round">C</text>
<text transform="translate(842.53,284.04) scale(1.0894,1.0944)" font-family='"Liberation Serif", serif' font-style="normal" font-size="34" stroke="#000" stroke-width="0.6" stroke-linejoin="round">3</text>
<text transform="translate(863.33,284.02) scale(1.2307,1.1294)" font-family='"Liberation Serif", serif' font-style="italic" font-size="34" stroke="#000" stroke-width="0.6" stroke-linejoin="round">v</text>
<text transform="translate(889.55,283.71) scale(1.4181,1.3155)" font-family='"Liberation Serif", serif' font-style="normal" font-size="50" stroke="#000" stroke-width="0.9" stroke-linejoin="round">/</text>
<text transform="translate(913.78,273.08) scale(0.9786,0.9553)" font-family='"Liberation Serif", serif' font-style="normal" font-size="50" stroke="#000" stroke-width="0.9" stroke-linejoin="round">InAs</text>
<text transform="translate(805.90,493.98) scale(0.8089,1.0069)" font-family='"Liberation Serif", serif' font-style="italic" font-size="50" stroke="#000" stroke-width="0.9" stroke-linejoin="round">C</text>
<text transform="translate(832.97,503.65) scale(1.0609,1.0594)" font-family='"Liberation Serif", serif' font-style="normal" font-size="34" stroke="#000" stroke-width="0.6" stroke-linejoin="round">3</text>
<text transform="translate(853.33,503.63) scale(1.2307,1.1043)" font-family='"Liberation Serif", serif' font-style="italic" font-size="34" stroke="#000" stroke-width="0.6" stroke-linejoin="round">v</text>
<text transform="translate(879.85,503.88) scale(1.4181,1.3633)" font-family='"Liberation Serif", serif' font-style="normal" font-size="50" stroke="#000" stroke-width="0.9" stroke-linejoin="round">/</text>
<text transform="translate(901.77,493.77) scale(0.9640,0.9778)" font-family='"Liberation Serif", serif' font-style="normal" font-size="50" stroke="#000" stroke-width="0.9" stroke-linejoin="round">GaSb</text>
<text transform="translate(832.24,710.05) scale(0.9822,1.0202)" font-family='"Liberation Serif", serif' font-style="italic" font-size="50" stroke="#000" stroke-width="0.9" stroke-linejoin="round">T</text>
<text transform="translate(858.81,719.32) scale(1.1586,1.0861)" font-family='"Liberation Serif", serif' font-style="italic" font-size="34" stroke="#000" stroke-width="0.6" stroke-linejoin="round">d</text>
<text transform="translate(887.15,719.39) scale(1.4685,1.3514)" font-family='"Liberation Serif", serif' font-style="normal" font-size="50" stroke="#000" stroke-width="0.9" stroke-linejoin="round">/</text>
<text transform="translate(911.77,710.15) scale(0.9861,1.0180)" font-family='"Liberation Serif", serif' font-style="normal" font-size="50" stroke="#000" stroke-width="0.9" stroke-linejoin="round">InAs</text>
<text transform="translate(824.04,930.05) scale(0.9822,1.0202)" font-family='"Liberation Serif", serif' font-style="italic" font-size="50" stroke="#000" stroke-width="0.9" stroke-linejoin="round">T</text>
<text transform="translate(850.61,941.11) scale(1.1586,1.1070)" font-family='"Liberation Serif", serif' font-style="italic" font-size="34" stroke="#000" stroke-width="0.6" stroke-linejoin="round">d</text>
<text transform="translate(878.95,939.99) scale(1.4829,1.3454)" font-family='"Liberation Serif", serif' font-style="normal" font-size="50" stroke="#000" stroke-width="0.9" stroke-linejoin="round">/</text>
<text transform="translate(902.89,929.97) scale(0.9566,0.9892)" font-family='"Liberation Serif", serif' font-style="normal" font-size="50" stroke="#000" stroke-width="0.9" stroke-linejoin="round">GaSb</text>
</svg>
</body></html>
